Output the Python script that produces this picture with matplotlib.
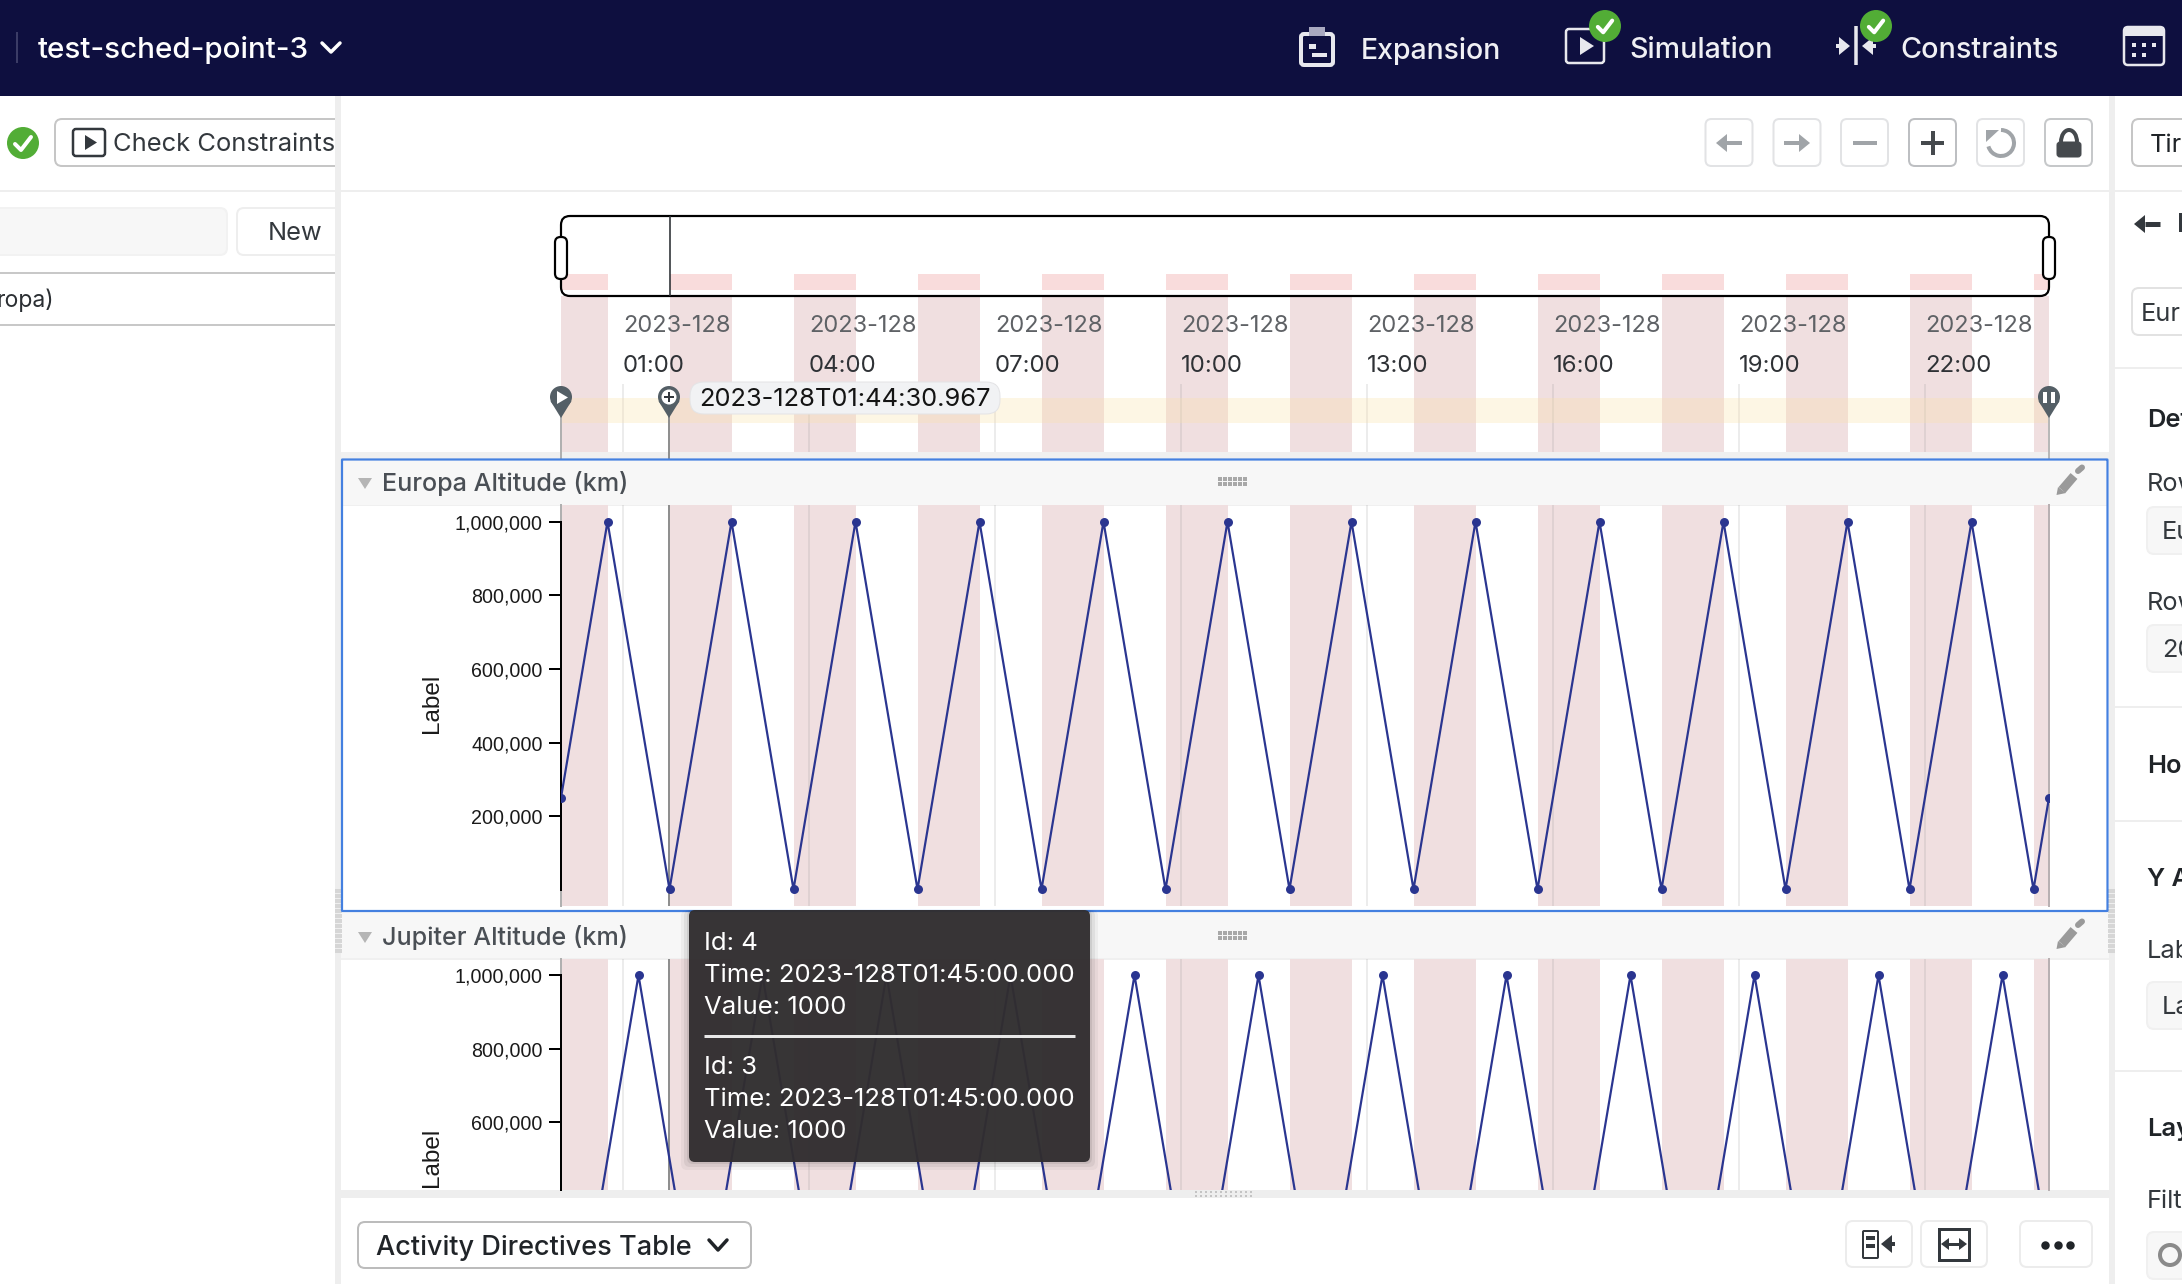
import matplotlib
matplotlib.use('Agg')
import matplotlib.pyplot as plt
from matplotlib.patches import FancyBboxPatch, Rectangle, Circle, Polygon, Arc, Ellipse

W, H = 2182, 1284
PLOT_L, PLOT_R = 561, 2049

# time is in hours of day 2023-128
band_starts = [0, 1.75, 3.75, 5.75, 7.75, 9.75, 11.75, 13.75, 15.75, 17.75, 19.75, 21.75, 23.75]
band_ends = [0.75, 2.75, 4.75, 6.75, 8.75, 10.75, 12.75, 14.75, 16.75, 18.75, 20.75, 22.75, 24]

tick_hours = [1, 4, 7, 10, 13, 16, 19, 22]
tick_times = ['01:00', '04:00', '07:00', '10:00', '13:00', '16:00', '19:00', '22:00']
tick_day = '2023-128'
cursor_hour = 1.742

europa_hours = [0, 0.75, 1.75, 2.75, 3.75, 4.75, 5.75, 6.75, 7.75, 8.75, 9.75, 10.75, 11.75,
                12.75, 13.75, 14.75, 15.75, 16.75, 17.75, 18.75, 19.75, 20.75, 21.75, 22.75, 23.75, 24]
europa_values = [250000, 1000000, 1000, 1000000, 1000, 1000000, 1000, 1000000, 1000, 1000000, 1000, 1000000, 1000,
                 1000000, 1000, 1000000, 1000, 1000000, 1000, 1000000, 1000, 1000000, 1000, 1000000, 1000, 250000]

jupiter_hours = [0, 0.25, 1.25, 2.25, 3.25, 4.25, 5.25, 6.25, 7.25, 8.25, 9.25, 10.25, 11.25, 12.25,
                 13.25, 14.25, 15.25, 16.25, 17.25, 18.25, 19.25, 20.25, 21.25, 22.25, 23.25, 24]
jupiter_values = [250000, 1000, 1000000, 1000, 1000000, 1000, 1000000, 1000, 1000000, 1000, 1000000, 1000, 1000000, 1000,
                  1000000, 1000, 1000000, 1000, 1000000, 1000, 1000000, 1000, 1000000, 1000, 1000000, 250000]

europa_ticks = [200000, 400000, 600000, 800000, 1000000]
europa_labels = ['200,000', '400,000', '600,000', '800,000', '1,000,000']
jupiter_ticks = [600000, 800000, 1000000]
jupiter_labels = ['600,000', '800,000', '1,000,000']

tooltip_lines = ['Id: 4', 'Time: 2023-128T01:45:00.000', 'Value: 1000',
                 'Id: 3', 'Time: 2023-128T01:45:00.000', 'Value: 1000']

NAVY = '#0e0f3f'
GREEN = '#52ad36'
LINE_BLUE = '#2a3590'
BAND = '#f0dfe0'
FONT = 'Inter'

fig = plt.figure(figsize=(W / 100, H / 100), dpi=100, facecolor='white')


def axes_px(x0, y0, x1, y1, z):
    a = fig.add_axes([x0 / W, 1 - y1 / H, (x1 - x0) / W, (y1 - y0) / H], zorder=z)
    a.patch.set_alpha(0)
    return a


def overlay(z):
    a = axes_px(0, 0, W, H, z)
    a.set_xlim(0, W)
    a.set_ylim(H, 0)
    a.axis('off')
    return a


bg = overlay(0)
fg = overlay(5)


def px(w):
    return w * 0.72


def rect(a, x0, y0, x1, y1, fc, z=1, **kw):
    a.add_patch(Rectangle((x0, y0), x1 - x0, y1 - y0, fc=fc, ec='none', zorder=z, **kw))


def rbox(a, x0, y0, x1, y1, r=7, fc='white', ec='#dddddd', lw=2, z=2, **kw):
    a.add_patch(FancyBboxPatch((x0 + r, y0 + r), x1 - x0 - 2 * r, y1 - y0 - 2 * r,
                               boxstyle=f'round,pad={r},rounding_size={r}',
                               fc=fc, ec=ec, lw=px(lw), zorder=z, **kw))


def seg(a, xs, ys, color, lw=2, z=3, **kw):
    a.plot(xs, ys, color=color, lw=px(lw), zorder=z, solid_capstyle=kw.pop('cap', 'butt'), **kw)


def label(a, x, y, s, size=15.5, color='#2b2f33', weight='normal', ha='left', z=4, **kw):
    a.text(x, y, s, fontsize=size, color=color, fontweight=weight, ha=ha, va='center_baseline',
           family=FONT, zorder=z, **kw)


def check(a, cx, cy, s=1.0):
    seg(a, [cx - 8 * s, cx - 2 * s, cx + 8 * s], [cy + 1 * s, cy + 7 * s, cy - 6 * s], 'white', lw=4, z=6, cap='round')


def arrow_h(a, x0, x1, y, color, direction, lw=4):
    # direction -1 points left, +1 points right
    tip = x0 if direction < 0 else x1
    base = tip - direction * 11
    tail = x1 if direction < 0 else x0
    seg(a, [tail, base], [y, y], color, lw=lw)
    a.add_patch(Polygon([(tip, y), (base, y - 9), (base, y + 9)], fc=color, ec='none', zorder=3))


# page background, header and panel dividers
rect(bg, 0, 0, W, 96, NAVY)
rect(bg, 335, 96, 341, H, '#eeeeee')
rect(bg, 2109, 96, 2115, H, '#eeeeee')
rect(bg, 0, 190, 335, 192, '#eeeeee')
rect(bg, 341, 190, 2109, 192, '#eeeeee')
rect(bg, 2115, 190, W, 192, '#eeeeee')
rect(bg, 341, 452, 2109, 459, '#f0f0f0')
rect(bg, 341, 1190, 2109, 1198, '#eeeeee')
rect(bg, 342, 460, 2107, 505, '#f7f7f7')
rect(bg, 342, 505, 2107, 506, '#f0f0f0')
rect(bg, 341, 912, 2109, 959, '#f7f7f7')
rect(bg, 341, 958, 2109, 960, '#f0f0f0')

# header
seg(fg, [17, 17], [32, 63], '#3b3c66', lw=2)
label(fg, 38, 47, 'test-sched-point-3', size=21.3, color='white', weight='medium')
seg(fg, [322, 331, 340], [43, 52, 43], 'white', lw=3.5, cap='round')

fg.add_patch(FancyBboxPatch((1303, 36), 28, 27, boxstyle='round,pad=2,rounding_size=3', fc='none', ec='#e8e8ee', lw=px(4), zorder=3))
rect(fg, 1309, 27, 1325, 36, '#a9a9c0', z=3)
rect(fg, 1309, 44, 1316, 49, '#e8e8ee', z=3)
rect(fg, 1312, 53, 1327, 57, '#e8e8ee', z=3)
label(fg, 1361, 48, 'Expansion', size=20.5, color='#f0f0f4', weight='medium')

rbox(fg, 1566, 29, 1604, 63, r=3, fc='none', ec='#e8e8ee', lw=2.5, z=3)
fg.add_patch(Polygon([(1580, 37), (1580, 55), (1594, 46)], fc='#e8e8ee', ec='none', zorder=3))
fg.add_patch(Ellipse((1605, 26), 32, 32, fc=GREEN, ec='none', zorder=5))
check(fg, 1605, 26, 0.9)
label(fg, 1629, 48, 'Simulation', size=20.6, color='#f0f0f4', weight='medium')

seg(fg, [1856, 1856], [26, 65], '#e8e8ee', lw=3.5)
arrow_h(fg, 1836, 1850, 46, '#e8e8ee', 1)
arrow_h(fg, 1862, 1876, 46, '#e8e8ee', -1)
fg.add_patch(Ellipse((1876, 26), 32, 32, fc=GREEN, ec='none', zorder=5))
check(fg, 1876, 26, 0.9)
label(fg, 1900, 48, 'Constraints', size=20.7, color='#f0f0f4', weight='medium')

rbox(fg, 2124, 27, 2164, 65, r=4, fc=NAVY, ec='#e8e8ee', lw=2.5, z=3)
rect(fg, 2124, 27, 2164, 36, '#e8e8ee', z=3)
fg.scatter([2134, 2144, 2154, 2134, 2144], [45, 45, 45, 55, 55], s=12, marker='s', color='#e8e8ee', zorder=4, linewidths=0)

# left panel
fg.add_patch(Circle((23, 143), 16, fc=GREEN, ec='none', zorder=3))
check(fg, 23, 143, 1.0)
rbox(bg, 55, 119, 360, 166, ec='#c6c6c6', z=2)
rect(bg, 335, 100, 341, 190, '#eeeeee', z=3)
rect(bg, 341, 100, 365, 189, 'white', z=3)
rbox(fg, 73, 129, 105, 156, r=3, fc='none', ec='#33383d', lw=2.5, z=3)
fg.add_patch(Polygon([(85, 135), (85, 150), (97, 142.5)], fc='#33383d', ec='none', zorder=3))
label(fg, 113, 142, 'Check Constraints', size=18.4, color='#33383d')
rbox(bg, -20, 208, 227, 255, fc='#f7f7f7', ec='#f2f2f2', z=2)
rbox(bg, 237, 208, 360, 255, ec='#eeeeee', z=2)
rect(bg, 335, 200, 341, 262, '#eeeeee', z=3)
rect(bg, 341, 200, 365, 262, 'white', z=3)
label(fg, 295, 231, 'New', size=18.3, color='#33383d', ha='center')
seg(bg, [0, 335], [273, 273], '#c8c8c8', lw=2)
seg(bg, [0, 335], [325, 325], '#c8c8c8', lw=2)
label(fg, 54, 298, 'ropa)', size=16.5, color='#2b2f33', ha='right')

# toolbar over the timeline
for cx, ec in zip([1729, 1797, 1864.5, 1932.5, 2000.5, 2068.5],
                  ['#e2e3e5', '#e2e3e5', '#e2e3e5', '#bdbfc2', '#e2e3e5', '#c6c8ca']):
    rbox(fg, cx - 23.5, 119, cx + 23.5, 166, r=6, ec=ec, z=2)
arrow_h(fg, 1716, 1742, 143, '#a0a4a8', -1)
arrow_h(fg, 1784, 1810, 143, '#a0a4a8', 1)
seg(fg, [1853, 1877], [143, 143], '#a0a4a8', lw=4)
seg(fg, [1921, 1944], [143, 143], '#45494d', lw=4)
seg(fg, [1932.5, 1932.5], [131, 155], '#45494d', lw=4)
fg.add_patch(Arc((2001, 143), 26, 26, theta1=-90, theta2=165, ec='#a0a4a8', lw=px(4), zorder=3))
fg.add_patch(Polygon([(1986, 130), (1999, 130), (1986, 142)], fc='#a0a4a8', ec='none', zorder=3))
fg.add_patch(Arc((2069, 142), 16, 24, theta1=180, theta2=360, ec='#45494d', lw=px(4), zorder=3))
rbox(fg, 2057, 142, 2081, 157, r=3, fc='#45494d', ec='#45494d', lw=1, z=3)

# time axes: overview strip and ruler
ax_over = axes_px(PLOT_L, 274, PLOT_R, 290, 1)
ax_over.set_xlim(0, 24)
ax_over.axis('off')
ax_top = axes_px(PLOT_L, 296, PLOT_R, 452, 1)
ax_top.set_xlim(0, 24)
ax_top.set_ylim(452, 296)
ax_top.axis('off')
for s, e in zip(band_starts, band_ends):
    ax_over.axvspan(s, e, color='#f9dcdc', lw=0)
    ax_top.axvspan(s, e, color=BAND, lw=0, zorder=1)
ax_top.vlines(tick_hours, 384, 452, color='#8a8a8a', alpha=0.16, lw=px(2), zorder=2)
ax_top.fill_between([0, 24], 398, 423, color='#fae2a8', alpha=0.3, lw=0, zorder=2)
for h, t in zip(tick_hours, tick_times):
    ax_top.text(h, 323, tick_day, fontsize=17, color='#5f6266', family=FONT, va='center_baseline', zorder=3)
    ax_top.text(h, 363, t, fontsize=17.3, color='#2f3236', family=FONT, va='center_baseline', zorder=3)

# overview brush and markers
rbox(fg, PLOT_L, 216, PLOT_R, 296, r=9, fc='none', ec='black', lw=2.2, z=3)
seg(fg, [670, 670], [216, 296], '#2b2f33', lw=1.6)
rbox(fg, 555, 237, 567, 279, r=5.5, fc='white', ec='black', lw=2.2, z=4)
rbox(fg, 2043, 237, 2055, 279, r=5.5, fc='white', ec='black', lw=2.2, z=4)


def pin(a, x, top):
    a.add_patch(Circle((x, top + 11), 11, fc='#545f66', ec='none', zorder=5))
    a.add_patch(Polygon([(x - 10.5, top + 15), (x + 10.5, top + 15), (x, top + 32)], fc='#545f66', ec='none', zorder=5))


for x, color in [(561, '#b0b0b0'), (669, '#8f8f8f'), (2049, '#b8b8b8')]:
    seg(fg, [x, x], [415, 459], color, lw=2, z=2)
pin(fg, 561, 386)
fg.add_patch(Polygon([(557, 391), (557, 404), (568, 397.5)], fc='white', ec='none', zorder=6))
pin(fg, 669, 386)
fg.add_patch(Circle((669, 397), 7.5, fc='white', ec='none', zorder=6))
seg(fg, [664, 674], [397, 397], '#33383d', lw=2, z=7)
seg(fg, [669, 669], [392, 402], '#33383d', lw=2, z=7)
pin(fg, 2049, 386)
rect(fg, 2043, 392, 2047, 403, 'white', z=6)
rect(fg, 2051, 392, 2055, 403, 'white', z=6)

rbox(fg, 690, 382, 1000, 414, r=14, fc='#f1f2f4', ec='#e4e4e6', lw=1, z=5)
label(fg, 699.5, 397, '2023-128T01:44:30.967', size=18.35, color='#141414', z=6)


def chart(y_top, y_bot, zero_px, hours, values, ticks, labels, label_frac):
    ax = axes_px(PLOT_L, y_top, PLOT_R, y_bot, 1)
    ax.set_xlim(0, 24)
    per_px = 1000000 / 368
    ax.set_ylim((zero_px - y_bot) * per_px, (zero_px - y_top) * per_px)
    for s, e in zip(band_starts, band_ends):
        ax.axvspan(s, e, color=BAND, lw=0, zorder=1)
    ax.vlines(tick_hours, *ax.get_ylim(), color='#8a8a8a', alpha=0.16, lw=px(2), zorder=2)
    ax.axvline(0, color='#b0b0b0', lw=px(2), clip_on=False, zorder=2)
    ax.axvline(24, color='#b8b0b2', lw=px(2), clip_on=False, zorder=2)
    ax.axvline(cursor_hour, color='#8f8f8f', lw=px(2), zorder=2)
    ax.plot(hours, values, color=LINE_BLUE, lw=px(2.2), marker='o', ms=px(9), mew=0, zorder=3)
    for side in ['top', 'right', 'bottom']:
        ax.spines[side].set_visible(False)
    ax.spines['left'].set_linewidth(px(2))
    ax.spines['left'].set_bounds(max(0, ax.get_ylim()[0]), 1000000)
    ax.set_xticks([])
    ax.set_yticks(ticks)
    ax.set_yticklabels(labels, fontsize=14.1, family='Liberation Sans', color='#1a1a1a')
    ax.tick_params(axis='y', length=px(12), width=px(2), pad=px(6.5))
    ax.set_ylabel('Label', fontsize=17.5, family='Liberation Sans', color='#1a1a1a')
    ax.yaxis.set_label_coords(-(PLOT_L - 443) / (PLOT_R - PLOT_L), label_frac)
    return ax


chart(505, 906, 889.7, europa_hours, europa_values, europa_ticks, europa_labels, 0.506)
chart(959, 1190, 1343.2, jupiter_hours, jupiter_values, jupiter_ticks, jupiter_labels, 0.142)

# row headers
rbox(fg, 342, 459.5, 2107.5, 911, r=0.5, fc='none', ec='#4480e0', lw=2.2, z=3)
for tri_y, title in [(478, 'Europa Altitude (km)'), (932, 'Jupiter Altitude (km)')]:
    fg.add_patch(Polygon([(358, tri_y), (372, tri_y), (365, tri_y + 11)], fc='#b5b5b5', ec='none', zorder=3))
    label(fg, 382, tri_y + 3, title, size=18.1, color='#4a4f55', weight='medium')
    for gx in [1220, 1225, 1230, 1235, 1240, 1245]:
        fg.scatter([gx, gx], [tri_y + 1, tri_y + 6], s=5, marker='s', color='#a8a8a8', linewidths=0, zorder=3)
    # pencil
    py = tri_y - 11
    seg(fg, [2062, 2074], [py + 23, py + 9], '#9a9a9a', lw=9)
    fg.add_patch(Polygon([(2056.5, py + 28), (2058, py + 20), (2066, py + 26)], fc='#9a9a9a', ec='none', zorder=3))
    seg(fg, [2078, 2082], [py + 4, py + 0.5], '#9a9a9a', lw=6, cap='round')

# drag handles between rows
for x in [337, 340, 2110, 2113]:
    fg.scatter([x] * 13, list(range(891, 952, 5)), s=5, marker='s', color='#d6d6d6', linewidths=0, zorder=2)
for gx in range(1196, 1256, 5):
    fg.scatter([gx, gx], [1192, 1196], s=4, marker='s', color='#c4c4c4', linewidths=0, zorder=2)

# tooltip
for grow, alpha in [(8, 0.04), (5, 0.06), (2, 0.08)]:
    rbox(fg, 689 - grow, 910, 1090 + grow, 1162 + grow, r=6, fc='black', ec='none', lw=0, z=6, alpha=alpha)
rbox(fg, 689, 910, 1090, 1162, r=6, fc='#312e30', ec='none', lw=0, z=7, alpha=0.96)
for ty, s in zip([941, 973, 1005, 1065, 1097, 1129], tooltip_lines):
    label(fg, 704, ty, s, size=18.5, color='white', z=8)
seg(fg, [704, 1075], [1036, 1036], '#e8e8e8', lw=3, z=8)

# bottom bar
rbox(fg, 358, 1222, 751, 1268, ec='#bcbcbc', z=2)
label(fg, 376, 1245, 'Activity Directives Table', size=19.5, color='#202428', weight='medium')
seg(fg, [709, 718, 727], [1240, 1250, 1240], '#202428', lw=3.5, cap='round')
for x0, x1 in [(1846, 1912), (1921, 1987), (2020, 2092)]:
    rbox(fg, x0, 1221, x1, 1267, ec='#ececec', z=2)
rbox(fg, 1863, 1231, 1878, 1258, r=1, fc='none', ec='#33383d', lw=2, z=3)
rect(fg, 1866, 1236, 1875, 1240, '#33383d', z=3)
rect(fg, 1866, 1244, 1875, 1248, '#33383d', z=3)
arrow_h(fg, 1881, 1895, 1244, '#33383d', -1)
fg.add_patch(Rectangle((1939, 1229), 30, 31, fc='none', ec='#33383d', lw=px(3), zorder=3))
seg(fg, [1948, 1960], [1244, 1244], '#33383d', lw=3)
fg.add_patch(Polygon([(1941, 1244), (1949, 1238), (1949, 1250)], fc='#33383d', ec='none', zorder=3))
fg.add_patch(Polygon([(1967, 1244), (1959, 1238), (1959, 1250)], fc='#33383d', ec='none', zorder=3))
fg.scatter([2045, 2057.5, 2070], [1245, 1245, 1245], s=37, color='#202428', linewidths=0, zorder=3)

# right panel, the window edge cuts these the same way as in the screenshot
rbox(fg, 2132, 119, 2260, 166, ec='#c6c6c6', z=2)
label(fg, 2150, 143, 'Tir', size=18.3, color='#202428')
arrow_h(fg, 2134, 2160, 224, '#33383d', -1, lw=5)
rect(fg, 2179, 213, W, 232, '#33383d')
rbox(fg, 2132, 288, 2260, 335, ec='#e2e2e2', z=2)
label(fg, 2141, 312, 'Eur', size=18.3, color='#33383d')
for y in [368, 707, 821, 1071]:
    seg(fg, [2115, W], [y, y], '#eeeeee', lw=2)
for y, s in [(418, 'Det'), (764, 'Ho'), (877, 'Y A'), (1127, 'Lay')]:
    label(fg, 2147, y, s, size=18.3, color='#202428', weight='semibold')
for y, s in [(482, 'Row'), (601, 'Row'), (949, 'Lab'), (1199, 'Filt')]:
    label(fg, 2147, y, s, size=18.3, color='#33383d')
for y0, s in [(507, 'Eu'), (625, '20'), (982, 'La')]:
    rbox(fg, 2147, y0, 2260, y0 + 47, fc='#f7f7f7', ec='#f0f0f0', z=2)
    label(fg, 2162, y0 + 23, s, size=18.3, color='#33383d')
rbox(fg, 2147, 1232, 2260, 1279, fc='#f7f7f7', ec='#f0f0f0', z=2)
fg.add_patch(Circle((2170, 1255), 10, fc='none', ec='#8a8a8a', lw=px(4), zorder=3))

fig.savefig('out.png', dpi=100)
